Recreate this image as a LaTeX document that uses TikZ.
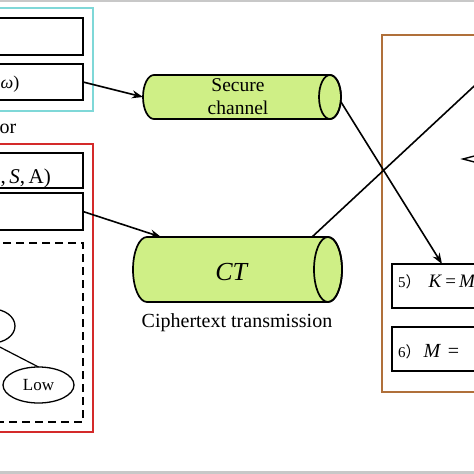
\documentclass[tikz,border=0pt]{standalone}
\usepackage{fontspec}
\setmainfont{Liberation Serif}
\newfontfamily\cjk{Noto Sans CJK SC}
\usetikzlibrary{arrows.meta,shapes.geometric}
\definecolor{cyanbox}{HTML}{7FD8D8}
\definecolor{redbox}{HTML}{D42A2A}
\definecolor{brownbox}{HTML}{B0703A}
\definecolor{cylfill}{HTML}{CFEF86}
\definecolor{band}{HTML}{C8C8C8}
\begin{document}
\begin{tikzpicture}[x=1pt,y=-1pt,
  box/.style={draw, line width=1.9pt, inner sep=0pt, outer sep=0pt},
  frame/.style={draw, line width=1.6pt, inner sep=0pt, outer sep=0pt},
  cyl/.style={draw, line width=1.7pt, fill=cylfill},
  oval/.style={ellipse, draw, line width=1.3pt, inner sep=0pt, outer sep=0pt},
  arr/.style={line width=1.6pt, -{Stealth[length=11pt,width=8pt]}},
  link/.style={line width=1.6pt},
  anchorbox/.style={inner sep=0pt, outer sep=0pt}]
\useasboundingbox (0,0) rectangle (474,474);
\clip (0,0) rectangle (474,474);
\fill[white] (0,0) rectangle (474,474);
\fill[band] (0,0) rectangle (474,2);
\fill[band] (0,471) rectangle (474,474);

% left upper group (cyan)
\node[frame, draw=cyanbox, minimum width=123, minimum height=103] (cyanf) at (31.5,59.5) {};
\node[box, minimum width=113, minimum height=37] (b1) at (26.5,36.5) {};
\node[box, minimum width=113, minimum height=36] (b2) at (26.5,82) {};
\node[anchor=base west, inner sep=0pt, font=\fontsize{18}{22}\selectfont] (t2) at (0.5,88.5) {\textit{ω})};
\node[anchor=base west, inner sep=0pt, font=\fontsize{20}{24}\selectfont] (tor) at (-0.5,133) {or};

% left lower group (red)
\node[frame, draw=redbox, minimum width=123, minimum height=288] (redf) at (31.5,288) {};
\node[box, minimum width=113, minimum height=35] (b3) at (26.5,170.5) {};
\node[anchor=base east, inner sep=0pt, font=\fontsize{21}{24}\selectfont] (t3) at (51,183) {{,}\,\textit{S}{,}\,A)};
\node[box, minimum width=113, minimum height=37] (b4) at (26.5,211.5) {};
\node[draw, line width=1.9pt, dash pattern=on 8pt off 5pt, inner sep=0pt, outer sep=0pt, minimum width=113, minimum height=179] (dbox) at (26.5,332.5) {};
\node[oval, minimum width=46, minimum height=34] (e1) at (-8,326) {};
\node[oval, minimum width=71, minimum height=36, font=\fontsize{17}{20}\selectfont] (low) at (38.5,385) {Low};
\draw[line width=1.2pt] (e1.south) -- (low.north);

% secure channel cylinder
\path[cyl] (330,75) -- (154,75) arc[start angle=90,end angle=270,x radius=11pt,y radius=22pt]
  -- (330,119) arc[start angle=270,end angle=450,x radius=11pt,y radius=22pt] -- cycle;
\draw[line width=1.7pt] (330,97) ellipse[x radius=11pt,y radius=22pt];
\node[anchorbox, minimum width=198, minimum height=44] (sc) at (242,97) {};
\node[align=center, font=\fontsize{19.5}{23}\selectfont] (sct) at (238,97) {Secure\\channel};

% CT cylinder
\path[cyl] (328,237) -- (147,237) arc[start angle=90,end angle=270,x radius=14pt,y radius=32.5pt]
  -- (328,302) arc[start angle=270,end angle=450,x radius=14pt,y radius=32.5pt] -- cycle;
\draw[line width=1.7pt] (328,269.5) ellipse[x radius=14pt,y radius=32.5pt];
\node[anchorbox, minimum width=209, minimum height=65] (ct) at (237.5,269.5) {};
\node[font=\fontsize{26}{30}\selectfont] (ctt) at (232,272) {\textit{CT}};
\node[font=\fontsize{20}{24}\selectfont] (ctl) at (237,323) {Ciphertext transmission};

% right group (brown)
\node[frame, draw=brownbox, minimum width=218, minimum height=357] (brownf) at (491,213.5) {};
\node[box, minimum width=208, minimum height=44] (b5) at (496,286) {};
\node[anchor=base west, inner sep=0pt] (t5) at (398,287) {\fontsize{15}{18}\selectfont 5{\cjk ）}\hspace{8pt}\fontsize{19}{22}\selectfont\textit{K}\,=\,\textit{M}};
\node[box, minimum width=208, minimum height=44] (b6) at (496,349) {};
\node[anchor=base west, inner sep=0pt] (t6) at (398,357) {\fontsize{15}{18}\selectfont 6{\cjk ）}\hspace{3pt}\fontsize{20}{24}\selectfont\textit{M}\,\,=};
\draw[line width=1.4pt] (480,154.5) -- (463,159) -- (480,163.5);

% connectors
\coordinate (offR) at (500,62);
\draw[arr] (b2.east) -- (sc.west);
\draw[arr] (b4.east) -- ([xshift=28pt]ct.north west);
\draw[arr] ([yshift=-5pt]sc.east) -- ([xshift=50pt]b5.north west);
\draw[link] ([xshift=179pt]ct.north west) -- (offR);
\end{tikzpicture}
\end{document}
